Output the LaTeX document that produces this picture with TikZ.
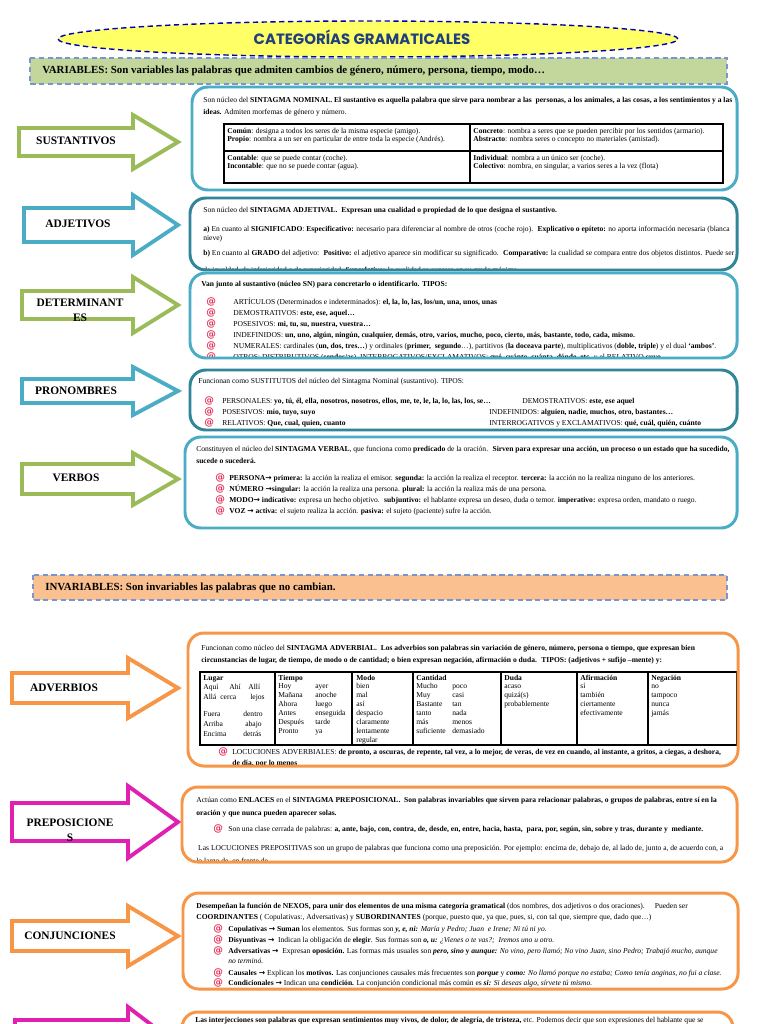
\documentclass[tikz,border=0pt]{standalone}
\usepackage{fontspec}
\setmainfont{Liberation Serif}
\newfontfamily\titlefont{Poppins}
\newfontfamily\symfont{DejaVu Sans}
\usepackage{tikz}
\usetikzlibrary{calc, positioning, shapes.geometric}
\usepackage{xcolor}
\definecolor{verde}{RGB}{155,187,89}
\definecolor{azul}{RGB}{75,172,198}
\definecolor{azulosc}{RGB}{49,133,155}
\definecolor{naranja}{RGB}{247,150,70}
\definecolor{rosa}{RGB}{224,32,176}
\definecolor{amarillo}{RGB}{255,255,102}
\definecolor{verdeclaro}{RGB}{195,214,155}
\definecolor{naranjaclaro}{RGB}{250,192,144}
\definecolor{bordeband}{RGB}{120,150,210}
\definecolor{titulo}{RGB}{31,63,125}
\definecolor{vineta}{RGB}{230,50,90}
\newcommand{\cuerpo}{\fontsize{4.3}{5}\selectfont}
\newcommand{\fl}{{\symfont\bfseries →}}
% arrow outline: colour, x start, head base, y centre, half shaft, half head
\newcommand{\catflecha}[6]{%
  \draw[#1, line width=2.2pt, fill=white] (#2,#4-#5) -- (#3,#4-#5) -- (#3,#4-#6) -- (178,#4)
    -- (#3,#4+#6) -- (#3,#4+#5) -- (#2,#4+#5) -- cycle;}

\begin{document}
\begin{tikzpicture}[x=0.02cm, y=-0.02cm,
  caja/.style={line width=1.7pt, rounded corners=9pt},
  banda/.style={draw=bordeband, densely dashed, line width=0.8pt},
  txt/.style={anchor=base west, inner sep=0pt, font=\cuerpo},
  vin/.style={anchor=base west, inner sep=0pt, text=vineta, font=\symfont\bfseries\fontsize{5.5}{5.5}\selectfont},
  cat/.style={font=\bfseries\fontsize{6.5}{8.6}\selectfont, align=center, inner sep=0pt},
  bandatxt/.style={anchor=base west, inner sep=0pt, font=\bfseries\fontsize{6.2}{7}\selectfont}]
  \clip (0,0) rectangle (768,1024);
  \fill[white] (0,0) rectangle (768,1024);

  % Title and variables band
  \node[ellipse, draw=blue!70!black, densely dashed, line width=0.8pt, fill=amarillo,
        minimum width=12.4cm, minimum height=0.72cm, inner sep=0pt] (titulo) at (368,39) {};
  \node[font=\titlefont\bfseries\fontsize{8.5}{9}\selectfont, text=titulo] (titulotxt) at (362,37) {CATEGORÍAS GRAMATICALES};
  \draw[banda, fill=verdeclaro] (30,58) rectangle (727,84);
  \node[bandatxt] (variables) at (42,74) {VARIABLES: Son variables las palabras que admiten cambios de género, número, persona, tiempo, modo…};

  % Sustantivos
  \catflecha{verde}{19}{133}{142}{14}{27}
  \node[cat] (sust) at (76,141) {SUSTANTIVOS};
  \draw[caja, draw=azul] (192,87) rectangle (737,190);
  \node[txt] (sust-l1) at (203,103) {Son núcleo del \textbf{SINTAGMA NOMINAL. El sustantivo es aquella palabra que sirve para nombrar a las \ personas, a los animales, a las cosas, a los sentimientos y a las}};
  \node[txt] (sust-l2) at (203,114) {\textbf{ideas.} Admiten morfemas de género y número.};
  \draw[line width=0.6pt] (224,124) rectangle (723,183);
  \draw[line width=0.6pt] (470,124) -- (470,183);
  \draw[line width=0.6pt] (224,151) -- (723,151);
  \node[txt] (sust-c1a) at (227,133) {\textbf{Común}: designa a todos los seres de la misma especie (amigo).};
  \node[txt] (sust-c1b) at (227,141) {\textbf{Propio}: nombra a un ser en particular de entre toda la especie (Andrés).};
  \node[txt] (sust-c2a) at (473,133) {\textbf{Concreto}: nombra a seres que se pueden percibir por los sentidos (armario).};
  \node[txt] (sust-c2b) at (473,141) {\textbf{Abstracto}: nombra seres o concepto no materiales (amistad).};
  \node[txt] (sust-c3a) at (227,160) {\textbf{Contable}: que se puede contar (coche).};
  \node[txt] (sust-c3b) at (227,168) {\textbf{Incontable}: que no se puede contar (agua).};
  \node[txt] (sust-c4a) at (473,160) {\textbf{Individual}: nombra a un único ser (coche).};
  \node[txt] (sust-c4b) at (473,168) {\textbf{Colectivo}: nombra, en singular, a varios seres a la vez (flota)};

  % Adjetivos
  \catflecha{azul}{24}{133}{225}{17}{30}
  \node[cat] (adj) at (78,224) {ADJETIVOS};
  \begin{scope}
    \clip[rounded corners=9pt] (190,198) rectangle (737,270);
    \node[txt] (adj-l1) at (203,212) {Son núcleo del \textbf{SINTAGMA ADJETIVAL. \ Expresan una cualidad o propiedad de lo que designa el sustantivo.}};
    \node[txt] (adj-l2) at (203,231) {\textbf{a)} En cuanto al \textbf{SIGNIFICADO}: \textbf{Especificativo:} necesario para diferenciar al nombre de otros (coche rojo). \ \textbf{Explicativo o epíteto:} no aporta información necesaria (blanca};
    \node[txt] (adj-l3) at (203,240) {nieve)};
    \node[txt] (adj-l4) at (203,255) {\textbf{b)} En cuanto al \textbf{GRADO} del adjetivo: \ \textbf{Positivo:} el adjetivo aparece sin modificar su significado. \ \textbf{Comparativo:} la cualidad se compara entre dos objetos distintos. Puede ser};
    \node[txt] (adj-l5) at (203,272) {de igualdad, de inferioridad o de superioridad. \textbf{Superlativo:} la cualidad se expresa en su grado máximo.};
  \end{scope}
  \draw[caja, draw=azulosc] (190,198) rectangle (737,270);

  % Determinantes
  \catflecha{verde}{22}{133}{305}{14}{28}
  \node[cat] (det) at (80,310) {DETERMINANT\\ES};
  \begin{scope}
    \clip[rounded corners=9pt] (190,273) rectangle (737,358);
    \node[txt] (det-l1) at (201,286) {\textbf{Van junto al sustantivo (núcleo SN) para concretarlo o identificarlo. TIPOS:}};
    \foreach \t [count=\i] in {%
      {ARTÍCULOS (Determinados e indeterminados): \textbf{el, la, lo, las, los/un, una, unos, unas}},
      {DEMOSTRATIVOS: \textbf{este, ese, aquel…}},
      {POSESIVOS: \textbf{mi, tu, su, nuestra, vuestra…}},
      {INDEFINIDOS: \textbf{un, uno, algún, ningún, cualquier, demás, otro, varios, mucho, poco, cierto, más, bastante, todo, cada, mismo.}},
      {NUMERALES: cardinales (\textbf{un, dos, tres…}) y ordinales (\textbf{primer, \ segundo}…), partitivos (\textbf{la doceava parte}), multiplicativos (\textbf{doble, triple}) y el dual \textbf{‘ambos’}.},
      {OTROS: DISTRIBUTIVOS (\textbf{sendos/as}), INTERROGATIVOS/EXCLAMATIVOS: \textbf{qué, cuánto, cuánta, dónde, etc.} y el RELATIVO \textbf{cuyo}}} {
      \node[vin] (det-b\i) at (206,293+11*\i) {@};
      \node[txt] (det-t\i) at (233,293+11*\i) {\t};
    }
  \end{scope}
  \draw[caja, draw=azul] (190,273) rectangle (737,358);

  % Pronombres
  \catflecha{azul}{22}{133}{391}{12}{24}
  \node[cat] (pron) at (76,391) {PRONOMBRES};
  \draw[caja, draw=azulosc] (190,370) rectangle (737,430);
  \node[txt] (pron-l1) at (198,383) {Funcionan como SUSTITUTOS del núcleo del Sintagma Nominal (sustantivo). TIPOS:};
  \foreach \t [count=\i] in {%
    {PERSONALES: \textbf{yo, tú, él, ella, nosotros, nosotros, ellos, me, te, le, la, lo, las, los, se…}},
    {POSESIVOS: \textbf{mío, tuyo, suyo}},
    {RELATIVOS: \textbf{Que, cual, quien, cuanto}}} {
    \node[vin] (pron-b\i) at (204,392+11*\i) {@};
    \node[txt] (pron-t\i) at (222,392+11*\i) {\t};
  }
  \node[txt] (pron-r1) at (522,403) {DEMOSTRATIVOS: \textbf{este, ese aquel}};
  \node[txt] (pron-r2) at (489,414) {INDEFINIDOS: \textbf{alguien, nadie, muchos, otro, bastantes…}};
  \node[txt] (pron-r3) at (489,425) {INTERROGATIVOS y EXCLAMATIVOS: \textbf{qué, cuál, quién, cuánto}};

  % Verbos
  \catflecha{verde}{22}{133}{479}{15}{26}
  \node[cat] (verb) at (76,478) {VERBOS};
  \draw[caja, draw=azul] (185,437) rectangle (737,528);
  \node[txt] (verb-l1) at (196,451) {Constituyen el núcleo del \textbf{SINTAGMA VERBAL}, que funciona como \textbf{predicado} de la oración. \ \textbf{Sirven para expresar una acción, un proceso o un estado que ha sucedido,}};
  \node[txt] (verb-l2) at (196,463) {\textbf{sucede o sucederá.}};
  \foreach \t [count=\i] in {%
    {\textbf{PERSONA\fl\ primera:} la acción la realiza el emisor. \textbf{segunda:} la acción la realiza el receptor. \textbf{tercera:} la acción no la realiza ninguno de los anteriores.},
    {\textbf{NÚMERO \fl singular:} la acción la realiza una persona. \textbf{plural:} la acción la realiza más de una persona.},
    {\textbf{MODO\fl\ indicativo:} expresa un hecho objetivo. \ \textbf{subjuntivo:} el hablante expresa un deseo, duda o temor. \textbf{imperativo:} expresa orden, mandato o ruego.},
    {\textbf{VOZ \fl\ activa:} el sujeto realiza la acción. \textbf{pasiva:} el sujeto (paciente) sufre la acción.}} {
    \node[vin] (verb-b\i) at (215,469+11*\i) {@};
    \node[txt] (verb-t\i) at (229,469+11*\i) {\t};
  }

  % Invariables band
  \draw[banda, fill=naranjaclaro] (33,575) rectangle (727,600);
  \node[bandatxt] (invariables) at (45,590) {INVARIABLES: Son invariables las palabras que no cambian.};

  % Adverbios
  \catflecha{naranja}{12}{128}{688}{15}{30}
  \node[cat] (adv) at (64,688) {ADVERBIOS};
  \begin{scope}
    \clip[rounded corners=9pt] (188,633) rectangle (738,766);
    \node[txt] (adv-l1) at (201,650) {Funcionan como núcleo del \textbf{SINTAGMA ADVERBIAL. \ Los adverbios son palabras sin variación de género, número, persona o tiempo, que expresan bien}};
    \node[txt] (adv-l2) at (201,662) {\textbf{circunstancias de lugar, de tiempo, de modo o de cantidad; o bien expresan negación, afirmación o duda. \ TIPOS: (adjetivos + sufijo –mente) y:}};
    \draw[line width=0.6pt] (200,672) rectangle (737,745);
    \foreach \x in {275,352,413,501,577,648} \draw[line width=0.6pt] (\x,672) -- (\x,745);
    \foreach \h/\x in {Lugar/203, Tiempo/278, Modo/356, Cantidad/416, Duda/504, Afirmación/580, Negación/651}
      \node[txt] (adv-h\x) at (\x,680) {\textbf{\h}};
    % Lugar
    \node[txt] (lug-1) at (203,689) {Aquí};   \node[txt] (lug-1b) at (229,689) {Ahí};  \node[txt] (lug-1c) at (248,689) {Allí};
    \node[txt] (lug-2) at (203,699) {Allá};   \node[txt] (lug-2b) at (220,699) {cerca}; \node[txt] (lug-2c) at (250,699) {lejos};
    \node[txt] (lug-3) at (203,716) {Fuera};  \node[txt] (lug-3b) at (243,716) {dentro};
    \node[txt] (lug-4) at (203,726) {Arriba}; \node[txt] (lug-4b) at (245,726) {abajo};
    \node[txt] (lug-5) at (203,736) {Encima}; \node[txt] (lug-5b) at (243,736) {detrás};
    % Tiempo and Cantidad
    \foreach \a/\b [count=\i] in {Hoy/ayer, Mañana/anoche, Ahora/luego, Antes/enseguida, Después/tarde, Pronto/ya} {
      \node[txt] (tie-a\i) at (278,679+9*\i) {\a};
      \node[txt] (tie-b\i) at (315,679+9*\i) {\b};
    }
    \foreach \a/\b [count=\i] in {Mucho/poco, Muy/casi, Bastante/tan, tanto/nada, más/menos, suficiente/demasiado} {
      \node[txt] (can-a\i) at (416,679+9*\i) {\a};
      \node[txt] (can-b\i) at (452,679+9*\i) {\b};
    }
    \foreach \a [count=\i] in {bien, mal, así, despacio, claramente, lentamente, regular}
      \node[txt] (mod-\i) at (356,679+9*\i) {\a};
    \foreach \a [count=\i] in {acaso, quizá(s), probablemente}
      \node[txt] (dud-\i) at (504,679+9*\i) {\a};
    \foreach \a [count=\i] in {sí, también, ciertamente, efectivamente}
      \node[txt] (afi-\i) at (580,679+9*\i) {\a};
    \foreach \a [count=\i] in {no, tampoco, nunca, jamás}
      \node[txt] (neg-\i) at (651,679+9*\i) {\a};
    \node[vin] (adv-b1) at (218,754) {@};
    \node[txt] (adv-loc1) at (232,754) {LOCUCIONES ADVERBIALES: \textbf{de pronto, a oscuras, de repente, tal vez, a lo mejor, de veras, de vez en cuando, al instante, a gritos, a ciegas, a deshora,}};
    \node[txt] (adv-loc2) at (232,765) {\textbf{de día, por lo menos}};
  \end{scope}
  \draw[caja, draw=naranja] (188,633) rectangle (738,766);

  % Preposiciones
  \catflecha{rosa}{12}{128}{822}{19}{36}
  \node[cat] (prep) at (70,830) {PREPOSICIONE\\S};
  \begin{scope}
    \clip[rounded corners=9pt] (182,787) rectangle (737,862);
    \node[txt] (prep-l1) at (196,802) {Actúan como \textbf{ENLACES} en el \textbf{SINTAGMA PREPOSICIONAL. \ Son palabras invariables que sirven para relacionar palabras, o grupos de palabras, entre sí en la}};
    \node[txt] (prep-l2) at (196,815) {\textbf{oración y que nunca pueden aparecer solas.}};
    \node[vin] (prep-b1) at (213,831) {@};
    \node[txt] (prep-l3) at (228,831) {Son una clase cerrada de palabras: \textbf{a, ante, bajo, con, contra, de, desde, en, entre, hacia, hasta, \ para, por, según, sin, sobre y tras, durante y \ mediante.}};
    \node[txt] (prep-l4) at (196,850) {\ Las LOCUCIONES PREPOSITIVAS son un grupo de palabras que funciona como una preposición. Por ejemplo: encima de, debajo de, al lado de, junto a, de acuerdo con, a};
    \node[txt] (prep-l5) at (196,863) {lo largo de, en frente de…};
  \end{scope}
  \draw[caja, draw=naranja] (182,787) rectangle (737,862);

  % Conjunciones
  \catflecha{naranja}{12}{128}{936}{15}{30}
  \node[cat] (conj) at (70,936) {CONJUNCIONES};
  \draw[caja, draw=naranja] (183,893) rectangle (738,989);
  \node[txt] (conj-l1) at (196,908) {\textbf{Desempeñan la función de NEXOS, para unir dos elementos de una misma categoría gramatical} (dos nombres, dos adjetivos o dos oraciones). \quad Pueden ser};
  \node[txt] (conj-l2) at (196,919) {\textbf{COORDINANTES} ( Copulativas:, Adversativas) y \textbf{SUBORDINANTES} (porque, puesto que, ya que, pues, si, con tal que, siempre que, dado que…)};
  \node[vin] (conj-b1) at (213,931) {@};
  \node[txt] (conj-t1) at (228,931) {\textbf{Copulativas \fl\ Suman} los elementos. Sus formas son \textbf{\textit{y, e, ni:}} \textit{María y Pedro; Juan \ e Irene; Ni tú ni yo.}};
  \node[vin] (conj-b2) at (213,942) {@};
  \node[txt] (conj-t2) at (228,942) {\textbf{Disyuntivas \fl}\ \ Indican la obligación de \textbf{elegir}. Sus formas son \textbf{\textit{o, u:}} \textit{¿Vienes o te vas?; \ Iremos uno u otro.}};
  \node[vin] (conj-b3) at (213,953) {@};
  \node[txt] (conj-t3) at (228,953) {\textbf{Adversativas \fl}\ \ Expresan \textbf{oposición.} Las formas más usuales son \textbf{\textit{pero, sino} y \textit{aunque:}} \textit{No vino, pero llamó; No vino Juan, sino Pedro; Trabajó mucho, aunque}};
  \node[txt] (conj-t3b) at (228,963) {\textit{no terminó.}};
  \node[vin] (conj-b4) at (213,975) {@};
  \node[txt] (conj-t4) at (228,975) {\textbf{Causales \fl} Explican los \textbf{motivos.} Las conjunciones causales más frecuentes son \textbf{\textit{porque}} y \textbf{\textit{como:}} \textit{No llamó porque no estaba; Como tenía anginas, no fui a clase.}};
  \node[vin] (conj-b5) at (213,985) {@};
  \node[txt] (conj-t5) at (228,985) {\textbf{Condicionales \fl} Indican una \textbf{condición.} La conjunción condicional más común es \textbf{\textit{si:}} \textit{Si deseas algo, sírvete tú mismo.}};

  % Interjecciones (cut by the page)
  \catflecha{rosa}{15}{128}{1045}{25}{38}
  \draw[caja, draw=naranja] (182,1012) rectangle (733,1070);
  \node[txt] (interj-l1) at (195,1022) {\textbf{Las interjecciones son palabras que expresan sentimientos muy vivos, de dolor, de alegría, de tristeza,} etc. Podemos decir que son expresiones del hablante que se};
\end{tikzpicture}
\end{document}
